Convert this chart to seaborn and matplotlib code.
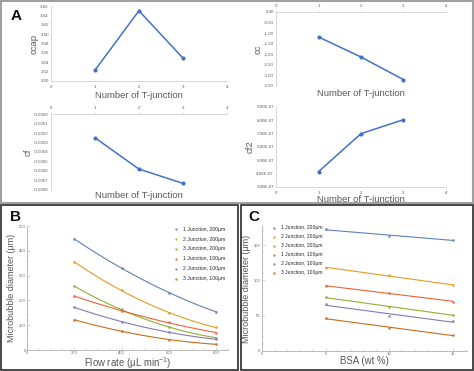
import numpy as np
import pandas as pd
import matplotlib
matplotlib.use('Agg')
import matplotlib.pyplot as plt
from matplotlib.patches import Rectangle
from matplotlib.ticker import FormatStrFormatter, MultipleLocator, FuncFormatter
import seaborn as sns

# ---------------- datos panel A ---------------- #
t_junction = [1, 2, 3]
ccap = [3.523, 3.650, 3.549]
cc = [-1.18, -2.13, -3.20]
cf = [-0.00525, -0.00558, -0.00573]
cf2 = [4.15e-7, 7.00e-7, 8.05e-7]

# ---------------- datos panel B ---------------- #
flow_rate = [200, 400, 600, 800]
b_1j_200 = [448, 331, 231, 154]
b_2j_200 = [355, 241, 150, 91]
b_3j_200 = [257, 164, 91, 50]
b_1j_100 = [218, 157, 111, 70]
b_2j_100 = [172, 115, 71, 43]
b_3j_100 = [122, 76, 42, 23]

# ---------------- datos panel C ---------------- #
bsa = [5, 10, 15]
c_1j_200 = [172, 163, 157]
c_2j_200 = [118, 107, 93]
c_3j_200 = [76, 62, 51]
c_1j_100 = [92, 82, 70]
c_2j_100 = [66, 50, 42]
c_3j_100 = [46, 33, 22]

series_labels = ['1 Junction, 200μm', '2 Junction, 200μm', '3 Junction, 200μm',
                 '1 Junction, 100μm', '2 Junction, 100μm', '3 Junction, 100μm']
colores = ['#5E81B5', '#E19C24', '#8FB032', '#EB6235', '#8778B3', '#C56E1A']

sns.set_style('white')
plt.rcParams['font.family'] = ['Liberation Sans', 'DejaVu Sans']
plt.rcParams['mathtext.fontset'] = 'custom'
plt.rcParams['mathtext.rm'] = 'Liberation Sans'
plt.rcParams['mathtext.default'] = 'regular'

fig = plt.figure(figsize=(4.74, 3.71), dpi=100)
fig.patch.set_facecolor('white')

# marcos de los paneles
fig.patches.append(Rectangle((0.002, 0.452), 0.996, 0.546, transform=fig.transFigure,
                             fill=False, edgecolor='#A0A0A0', linewidth=1.5))
fig.patches.append(Rectangle((0.003, 0.004), 0.500, 0.443, transform=fig.transFigure,
                             fill=False, edgecolor='#3A3A3A', linewidth=1.3))
fig.patches.append(Rectangle((0.508, 0.004), 0.489, 0.443, transform=fig.transFigure,
                             fill=False, edgecolor='#3A3A3A', linewidth=1.3))

gris = '#595959'
eje = '#D0D0D0'


def panel_excel(rect, valores, nombre, ylim, paso, fmt, arriba=False):
    ax = fig.add_axes(rect)
    df = pd.DataFrame({'T': t_junction, 'v': valores})
    sns.lineplot(data=df, x='T', y='v', ax=ax, color='#4472C4', linewidth=1.1,
                 marker='o', markersize=3, markeredgewidth=0)
    ax.set_xlim(0, 4)
    ax.set_ylim(*ylim)
    ax.set_xticks([0, 1, 2, 3, 4])
    ax.set_yticks(np.arange(ylim[0], ylim[1] + paso / 2, paso))
    ax.yaxis.set_major_formatter(fmt)
    for s in ax.spines.values():
        s.set_visible(False)
    ax.spines['left'].set_visible(True)
    ax.spines['left'].set_color(eje)
    ax.spines['left'].set_linewidth(0.6)
    lado = 'top' if arriba else 'bottom'
    ax.spines[lado].set_visible(True)
    ax.spines[lado].set_color(eje)
    ax.spines[lado].set_linewidth(0.6)
    if arriba:
        ax.xaxis.tick_top()
    ax.xaxis.set_label_position('bottom')
    ax.tick_params(axis='both', labelsize=3.2, colors=gris, length=1.5, width=0.4, pad=1.5)
    ax.tick_params(axis='x', colors=eje, labelcolor=gris)
    ax.tick_params(axis='y', length=0)
    ax.set_xlabel('Number of T-junction', fontsize=6.8, color=gris, labelpad=1)
    ax.set_ylabel(nombre, fontsize=6.8, color=gris, labelpad=1)
    return ax


ax1 = panel_excel([0.1076, 0.7817, 0.371, 0.202], ccap, 'ccap', (3.50, 3.66), 0.02,
                  FormatStrFormatter('%.2f'))
ax1.xaxis.labelpad = 1
ax2 = panel_excel([0.5823, 0.7682, 0.3586, 0.1995], cc, 'cc', (-3.5, 0.0), 0.5,
                  FormatStrFormatter('%.2f'), arriba=True)
ax2.xaxis.labelpad = 2
ax3 = panel_excel([0.1076, 0.4879, 0.371, 0.2048], cf, 'cf', (-0.0058, -0.0050), 0.0001,
                  FormatStrFormatter('%.4f'), arriba=True)
ax3.xaxis.labelpad = 0.5
ax4 = panel_excel([0.5823, 0.4960, 0.3586, 0.2156], cf2, 'cf2', (3e-7, 9e-7), 1e-7,
                  FuncFormatter(lambda v, p: f'{v:.2E}'))
ax4.xaxis.labelpad = 0

fig.text(0.022, 0.945, 'A', fontsize=11, fontweight='bold', color='#111111')


def panel_mathematica(rect, x, series, xlim, ylim, xmaj, xmin, ymaj, ymin, orden, xlabel):
    ax = fig.add_axes(rect)
    for vals, lab, col in zip(series, series_labels, colores):
        df = pd.DataFrame({'x': x, 'y': vals})
        sns.regplot(data=df, x='x', y='y', ax=ax, order=orden, ci=None, truncate=True,
                    color=col, label=lab,
                    scatter_kws={'s': 4, 'marker': 's', 'linewidths': 0},
                    line_kws={'linewidth': 0.8})
    ax.set_xlim(*xlim)
    ax.set_ylim(*ylim)
    ax.xaxis.set_major_locator(MultipleLocator(xmaj))
    ax.xaxis.set_minor_locator(MultipleLocator(xmin))
    ax.yaxis.set_major_locator(MultipleLocator(ymaj))
    ax.yaxis.set_minor_locator(MultipleLocator(ymin))
    sns.despine(ax=ax)
    for s in ['left', 'bottom']:
        ax.spines[s].set_color('#B0B0B0')
        ax.spines[s].set_linewidth(0.6)
    ax.tick_params(which='major', direction='in', length=2.5, width=0.4, color='#B0B0B0',
                   labelsize=3, labelcolor='#666666', pad=1)
    ax.tick_params(which='minor', direction='in', length=1.3, width=0.3, color='#B0B0B0')
    ax.tick_params(bottom=True, left=True, which='both')
    ax.set_xlabel(xlabel, fontsize=6.9, color='#555555', labelpad=0)
    ax.set_ylabel('Microbubble diameter (μm)', fontsize=6.5, color='#555555', labelpad=2)
    return ax


series_b = [b_1j_200, b_2j_200, b_3j_200, b_1j_100, b_2j_100, b_3j_100]
axb = panel_mathematica([0.057, 0.0566, 0.424, 0.334], flow_rate, series_b,
                        (0, 850), (0, 500), 200, 50, 100, 20, 2,
                        'Flow rate (μL min$^{-1}$)')
axb.legend(loc='upper right', bbox_to_anchor=(1.0, 1.02), frameon=False, fontsize=3.7,
           markerscale=0.9, handletextpad=0.3, labelspacing=0.95, borderaxespad=0.2)
for h in axb.get_legend().legend_handles:
    if isinstance(h, matplotlib.lines.Line2D):
        h.set_visible(False)
fig.text(0.022, 0.403, 'B', fontsize=11, fontweight='bold', color='#111111')

series_c = [c_1j_200, c_2j_200, c_3j_200, c_1j_100, c_2j_100, c_3j_100]
axc = panel_mathematica([0.5527, 0.054, 0.4325, 0.337], bsa, series_c,
                        (0, 16.1), (0, 177), 5, 1, 50, 10, 1, 'BSA (wt %)')
axc.legend(loc='upper left', bbox_to_anchor=(0.02, 1.03), frameon=False, fontsize=3.6,
           markerscale=0.9, handletextpad=0.3, labelspacing=0.8, borderaxespad=0.2)
for h in axc.get_legend().legend_handles:
    if isinstance(h, matplotlib.lines.Line2D):
        h.set_visible(False)
fig.text(0.525, 0.403, 'C', fontsize=11, fontweight='bold', color='#111111')

fig.savefig('out.png', dpi=100)
